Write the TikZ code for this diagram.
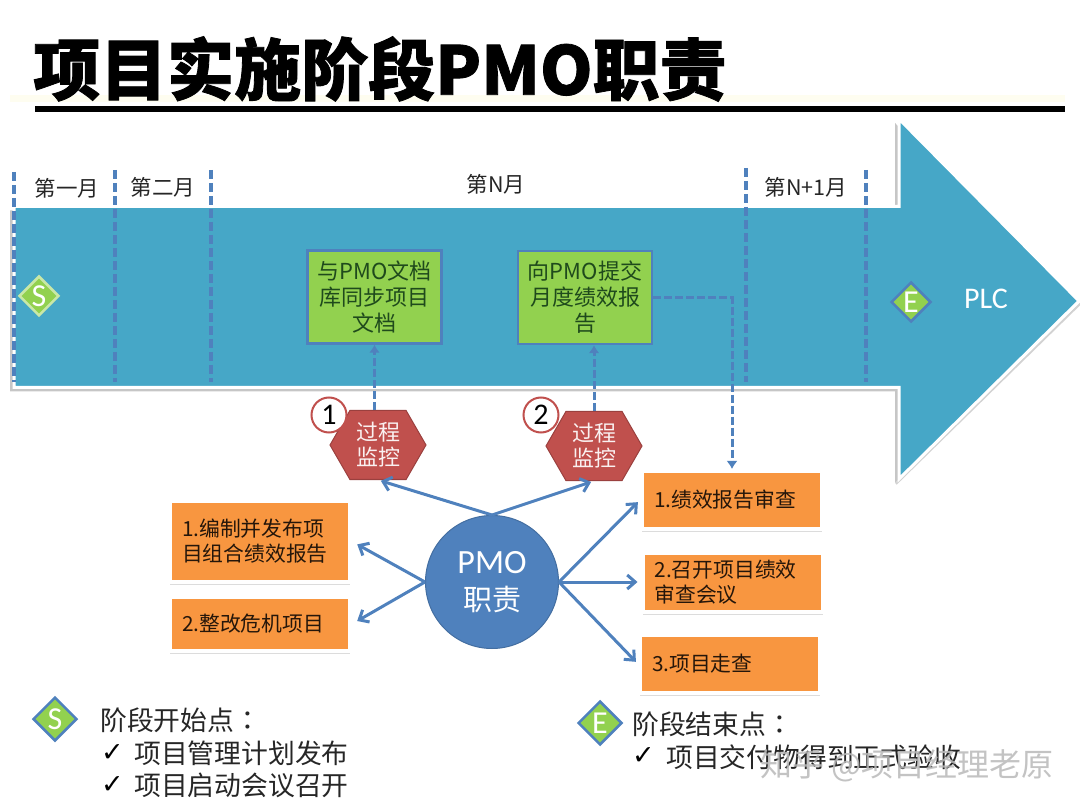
\documentclass[tikz,border=0pt]{standalone}
\usepackage{fontspec}
\setmainfont{Noto Sans CJK SC}
\newfontfamily\latfont{Carlito}
\newfontfamily\markfont{DejaVu Sans}
\newfontfamily\colonfont{Noto Sans CJK TC}
\usetikzlibrary{arrows.meta,shapes.geometric,shapes.symbols,shadows}

\definecolor{bandblue}{HTML}{46A7C7}
\definecolor{leafgreen}{HTML}{92D14F}
\definecolor{lineblue}{HTML}{4F81BD}
\definecolor{pumporange}{HTML}{F89640}
\definecolor{hexred}{HTML}{C0504D}
\definecolor{inkgrey}{HTML}{262626}
\definecolor{boxink}{HTML}{1F4A1C}

\tikzset{
  bandshape/.style={insert path={(14,206.5) -- (899,206.5) -- (899,119) -- (1079,301) -- (899,479) -- (899,387.5) -- (14,387.5) -- cycle}},
  monthline/.style={lineblue, line width=3.2pt, dash pattern=on 9pt off 4pt},
  monthtext/.style={inkgrey, font=\fontsize{21.5}{24}\selectfont, inner sep=0pt},
  gbox/.style={draw=lineblue, line width=2.5pt, fill=leafgreen, minimum width=134pt, minimum height=93pt, inner sep=0pt, align=center, text=boxink, font=\fontsize{22}{26}\selectfont},
  obox/.style={draw=white, line width=4pt, fill=pumporange, drop shadow={shadow xshift=0pt, shadow yshift=-3pt, fill=gray!55}, minimum width=180pt, text width=156pt, inner xsep=12pt, inner ysep=0pt, align=left, text=black!85!pumporange, font=\fontsize{20.8}{25}\selectfont},
  hexmon/.style={signal, signal to=west and east, signal pointer angle=120, draw=hexred!80!black, fill=hexred, line width=1pt, minimum width=96pt, minimum height=69pt, inner sep=0pt, align=center, text=white!92!hexred, font=\fontsize{22}{25}\selectfont},
  numdot/.style={circle, draw=hexred, line width=2pt, fill=white, minimum size=35pt, inner sep=0pt, text=black, font=\latfont\fontsize{30}{30}\selectfont},
  gem/.style={diamond, fill=leafgreen, draw=lineblue, line width=2.5pt, minimum width=40pt, minimum height=40pt, inner sep=0pt, text=white, font=\latfont\fontsize{32}{32}\selectfont},
  legendtext/.style={anchor=west, inner sep=0pt, text=inkgrey, font=\fontsize{26.8}{30}\selectfont},
  tick/.style={anchor=west, inner sep=0pt, text=black, font=\markfont\fontsize{27}{30}\selectfont},
  duty/.style={lineblue, line width=3pt, shorten >=3pt, -{Straight Barb[length=8pt,width=14pt,line width=3pt]}},
  feed/.style={lineblue, line width=3pt, dash pattern=on 8pt off 3pt, -{Latex[length=8pt,width=11pt]}}
}

\begin{document}
\begin{tikzpicture}[x=1pt,y=-1pt]
    \useasboundingbox (0,0) rectangle (1080,810);

    % title
    \fill[black!8!yellow!6!white] (10,95) rectangle (1065,102);
    \fill[black] (35,106) rectangle (1065,112);
    \node[anchor=west, inner sep=0pt] (title) at (33,69) {\fontsize{67}{70}\selectfont\addfontfeature{FakeBold=1.2}\bfseries 项目实施阶段PMO职责};

    % band
    \fill[gray!45, xshift=-4pt, yshift=-4pt, bandshape];
    \draw[gray!35, line width=2pt] (1081,303) -- (896,484);
    \filldraw[draw=white, line width=3pt, fill=bandblue, bandshape];

    % months
    \coordinate (ma) at (14,172);   \coordinate (mae) at (14,382);
    \coordinate (mb) at (115,170);  \coordinate (mbe) at (115,382);
    \coordinate (mc) at (211,170);  \coordinate (mce) at (211,382);
    \coordinate (md) at (746,168);  \coordinate (mde) at (746,382);
    \coordinate (me) at (866,170);  \coordinate (mee) at (866,382);
    \draw[monthline] (ma) -- (mae);
    \draw[monthline] (mb) -- (mbe);
    \draw[monthline] (mc) -- (mce);
    \draw[monthline] (md) -- (mde);
    \draw[monthline] (me) -- (mee);
    \node[monthtext] (first) at (67,188) {第一月};
    \node[monthtext] (second) at (163,187) {第二月};
    \node[monthtext] (nth) at (496,184) {第N月};
    \node[monthtext] (next) at (806,187) {第N+1月};

    % marks on the band
    \node[gem, draw=white!50!leafgreen] (start) at (39,296) {S};
    \node[gem] (finish) at (911,302) {E};
    \node[text=white, inner sep=0pt, font=\latfont\fontsize{30}{30}\selectfont] (plc) at (986,299) {PLC};

    % green boxes
    \node[gbox] (sync) at (374.5,297) {与PMO文档\\库同步项目\\文档};
    \node[gbox] (report) at (585,297.5) {向PMO提交\\月度绩效报\\告};

    % monitors
    \node[hexmon] (mona) at (378,445) {过程\\监控};
    \node[hexmon] (monb) at (594,446) {过程\\监控};
    \node[numdot] (numa) at (329,415) {1};
    \node[numdot] (numb) at (541,415) {2};

    % pmo
    \node[circle, fill=lineblue, draw=lineblue!85!black, line width=1pt, minimum size=133pt, inner sep=0pt, align=center, text=white, font=\fontsize{29}{37}\selectfont] (pmo) at (492,582) {{\latfont\fontsize{34}{37}\selectfont PMO}\\职责};

    % orange boxes
    \node[obox, minimum height=81pt] (oa) at (260,541.5) {1.编制并发布项\\目组合绩效报告};
    \node[obox, minimum height=54pt] (ob) at (260,624) {2.整改危机项目};
    \node[obox, minimum height=58pt] (oc) at (732,500) {1.绩效报告审查};
    \node[obox, minimum height=59pt] (od) at (732.5,582) {2.召开项目绩效\\审查会议};
    \node[obox, minimum height=58pt] (oe) at (730,664) {3.项目走查};

    % connectors
    \draw[duty] (pmo.north) -- (mona.south);
    \draw[duty] (pmo.north) -- (monb.south);
    \draw[duty, shorten >=6pt] (pmo.west) -- (oa.east);
    \draw[duty, shorten >=6pt] (pmo.west) -- (ob.east);
    \draw[duty] (pmo.east) -- (oc.west);
    \draw[duty] (pmo.east) -- (od.west);
    \draw[duty] (pmo.east) -- (oe.west);
    \draw[feed] (sync.south |- mona.north) -- (sync.south);
    \draw[feed] (monb.north) -- (monb.north |- report.south);
    \draw[feed] (report.east) -| (oc.north);

    % legend
    \node[gem, minimum width=44pt, minimum height=44pt] (legs) at (55,719) {S};
    \node[legendtext] (legsh) at (100,720) {阶段开始点{\colonfont ：}};
    \node[tick] (ticka) at (101,753) {✓};
    \node[legendtext] (itema) at (134,753) {项目管理计划发布};
    \node[tick] (tickb) at (101,785) {✓};
    \node[legendtext] (itemb) at (134,785) {项目启动会议召开};
    \node[gem, minimum width=44pt, minimum height=44pt] (lege) at (600,723) {E};
    \node[legendtext] (legeh) at (632,724) {阶段结束点{\colonfont ：}};
    \node[tick] (tickc) at (632,756) {✓};
    \node[legendtext] (itemc) at (666,757) {项目交付物得到正式验收};

    % watermark
    \node[anchor=west, inner sep=0pt, text=gray!55, opacity=.85, font=\fontsize{32}{34}\selectfont] (mark) at (760,766) {知乎 @项目经理老原};
\end{tikzpicture}
\end{document}
